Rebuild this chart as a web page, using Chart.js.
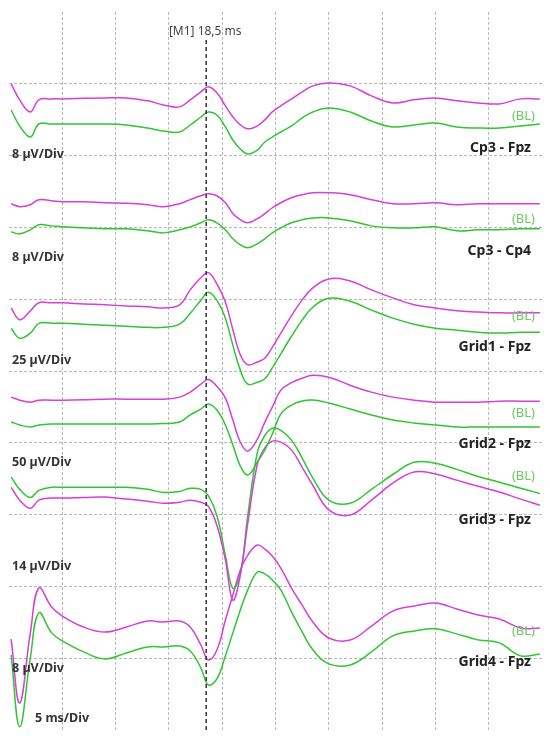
<!DOCTYPE html>
<html>
<head>
<meta charset="utf-8">
<script src="https://cdn.jsdelivr.net/npm/chart.js@4"></script>
<style>
  html, body { margin: 0; padding: 0; background: #fff; }
  canvas { display: block; }
</style>
</head>
<body>
<canvas id="myChart" width="550" height="742"></canvas>
<script>
// sample times, ms
const times = [0.2, 1, 2, 2.8, 4, 5, 7, 9, 11, 13, 14.5, 16, 17, 18, 18.7, 19.5, 20.3, 21, 21.7, 22.4,
  23.3, 24, 24.7, 25.5, 26.5, 27.5, 28.5, 30, 32, 34, 36, 38, 40, 42, 44, 46, 48, 49.8];

const channelNames = ['Cp3 - Fpz', 'Cp3 - Cp4', 'Grid1 - Fpz', 'Grid2 - Fpz', 'Grid3 - Fpz', 'Grid4 - Fpz'];
const uvPerDiv = [8, 8, 25, 50, 14, 8];
const msPerDiv = 5;
const markerMs = 18.5;

// amplitudes in µV, relative to each trace's baseline
const cp3FpzMag = [1.67, -0.11, -1.45, -0.11, 0, 0, 0.06, 0.11, 0.11, -0.22, -0.67, -0.89, -0.11, 0.78, 1.34, 0.67, -0.78, -2.01, -2.90, -3.34,
  -3.01, -2.34, -1.45, -0.78, 0, 0.78, 1.45, 1.78, 1.45, 0.33, -0.45, -0.11, 0.11, -0.22, -0.45, -0.56, 0, 0];
const cp3FpzGrn = [1.56, -0.22, -1.45, 0, 0, 0, 0, 0, -0.11, -0.45, -0.78, -0.89, -0.11, 0.78, 1.34, 1.00, -0.33, -1.78, -2.79, -3.34,
  -2.90, -2.01, -1.45, -0.89, -0.22, 0.67, 1.34, 1.78, 1.34, 0.33, -0.33, -0.11, 0.11, -0.33, -0.45, -0.45, -0.22, 0];

const cp3Cp4Mag = [0, -0.33, -0.11, 0.45, 0.33, 0.22, 0.22, 0.11, 0.06, -0.11, -0.33, 0, 0.45, 0.89, 1.11, 0.89, 0.11, -1.11, -1.78, -2.12,
  -1.67, -1.11, -0.45, 0.11, 0.67, 1.00, 1.22, 1.22, 1.00, 0.45, 0, 0, 0.11, -0.11, 0, 0, 0, 0];
const cp3Cp4Grn = [-0.33, -0.56, -0.11, 0.45, 0.33, 0.22, 0.11, 0, 0, -0.22, -0.45, -0.11, 0.22, 0.67, 1.00, 0.67, -0.11, -1.11, -1.78, -2.12,
  -1.67, -1.11, -0.45, 0.11, 0.67, 1.00, 1.22, 1.22, 0.89, 0.33, 0.11, 0.11, 0.22, -0.22, -0.11, -0.11, 0, 0];

const grid1Mag = [1.7, -2.4, 0.7, 3.5, 3.5, 3.5, 3.1, 2.8, 2.4, 2.1, 1.7, 2.8, 8.0, 12.2, 14.0, 10.1, 3.8, -5.9, -14.6, -18.1,
  -17.1, -15.8, -12.0, -7.1, -1.0, 4.5, 8.7, 11.8, 11.1, 8.0, 5.2, 2.8, 1.7, 0.7, 0.3, 0, 0, 0];
const grid1Grn = [1.4, -2.1, -0.3, 3.1, 3.1, 3.1, 2.8, 2.4, 2.1, 1.7, 1.7, 2.8, 6.6, 11.1, 13.9, 11.1, 4.9, -4.5, -13.2, -18.1,
  -17.4, -16.2, -12.4, -7.5, -1.4, 4.2, 8.7, 11.8, 10.8, 7.7, 4.9, 2.8, 1.4, 0.7, 0, -0.3, 0, 0];

const grid2Mag = [2.8, 0.7, -0.7, 0.7, 0.7, 0.7, 1.0, 1.4, 1.4, 1.4, 1.4, 2.8, 6.3, 11.8, 15.1, 10.4, 2.1, -13.2, -28.6, -34.8,
  -26.5, -14.6, -4.2, 7.7, 12.9, 16.0, 18.1, 16.7, 11.1, 6.3, 2.8, 0.7, -0.7, -0.7, -0.7, 0, 0, 0];
const grid2Grn = [3.5, 1.4, 0, 1.4, 2.1, 2.1, 2.1, 2.1, 2.1, 2.1, 2.4, 3.5, 8.4, 12.5, 16.0, 11.8, 1.4, -12.5, -27.2, -33.4,
  -24.4, -16.0, -4.9, 9.1, 15.3, 18.1, 18.8, 16.7, 12.5, 8.4, 4.9, 2.8, 1.4, 0, 0, 0, 0, 0];

const grid3Mag = [2.1, -0.4, -2.0, -0.4, 0, 0, 0.1, 0.2, -0.2, -0.6, -1.0, -0.8, -0.4, -0.8, -1.6, -5.3, -12.1, -19.9, -15.0, -4.9,
  6.6, 9.8, 11.1, 10.9, 9.4, 6.0, 2.5, -2.3, -3.3, -0.4, 2.9, 5.1, 4.7, 3.5, 2.3, 1.2, -0.2, -1.4];
const grid3Grn = [2.0, -0.4, -2.0, -0.6, 0, 0, 0, 0, 0, -0.4, -1.0, -0.8, -0.2, -0.4, -1.6, -5.5, -13.3, -19.7, -16.8, -5.5,
  6.8, 10.1, 11.5, 11.1, 9.2, 5.7, 1.8, -2.5, -3.1, -0.4, 2.5, 4.9, 4.7, 3.5, 2.1, 1.0, -0.2, -1.2];

const grid4Mag = [-1.23, -8.36, -0.56, 4.46, 2.34, 1.34, 0.11, -0.45, 0.11, 0.78, 0.67, 0.78, 0.11, -1.89, -3.56, -2.45, 0.89, 3.68, 6.46, 8.13,
  9.25, 8.80, 8.02, 6.68, 4.46, 2.56, 0.67, -1.11, -1.34, 0.22, 1.89, 2.45, 2.79, 2.12, 1.45, 1.00, 0, 0];
const grid4Grn = [-0.11, -8.13, -0.45, 4.57, 2.34, 1.45, 0.22, -0.56, 0.11, 0.78, 0.78, 0.89, 0.33, -1.56, -3.46, -2.79, -0.22, 2.34, 4.90, 7.13,
  9.13, 8.91, 8.24, 7.13, 4.68, 2.45, 0.45, -1.11, -1.23, 0.22, 2.01, 2.56, 2.79, 2.23, 1.56, 1.23, -0.22, 0];

const magTraces = [cp3FpzMag, cp3Cp4Mag, grid1Mag, grid2Mag, grid3Mag, grid4Mag];
const grnTraces = [cp3FpzGrn, cp3Cp4Grn, grid1Grn, grid2Grn, grid3Grn, grid4Grn];

// layout: where each trace's baseline sits, in divisions from the top
const magBase = [1.21, 2.67, 4.19, 5.42, 6.77, 8.58];
const grnBase = [1.56, 3.02, 4.46, 5.78, 6.62, 8.94];

const MAGENTA = 'rgb(216, 62, 216)';
const GREEN = 'rgb(48, 198, 48)';

function toPoints(trace, base, scale) {
  return trace.map((v, i) => ({ x: times[i], y: base - v / scale }));
}

const datasets = [];
channelNames.forEach((name, c) => {
  datasets.push({
    label: name + ' A',
    data: toPoints(magTraces[c], magBase[c], uvPerDiv[c]),
    borderColor: MAGENTA, borderWidth: 1.5, pointRadius: 0, tension: 0.4
  });
  datasets.push({
    label: name + ' B',
    data: toPoints(grnTraces[c], grnBase[c], uvPerDiv[c]),
    borderColor: GREEN, borderWidth: 1.5, pointRadius: 0, tension: 0.4
  });
});

// text positions (px)
const scaleLabelY = [154, 257, 360, 462, 566, 668];
const nameLabelY = [148, 251, 347, 444, 520, 662];
const blLabelY = [116, 219, 316, 413, 476, 631];

const overlay = {
  id: 'overlay',
  afterDatasetsDraw(chart) {
    const {ctx, chartArea: {bottom}, scales: {x}} = chart;
    const mx = x.getPixelForValue(markerMs);
    ctx.save();
    ctx.strokeStyle = '#333';
    ctx.lineWidth = 1.5;
    ctx.setLineDash([4, 3]);
    ctx.beginPath();
    ctx.moveTo(mx, 40);
    ctx.lineTo(mx, bottom);
    ctx.stroke();
    ctx.setLineDash([]);

    ctx.textBaseline = 'middle';
    ctx.font = '12px "Noto Sans"';
    ctx.fillStyle = '#444';
    ctx.textAlign = 'center';
    ctx.fillText('[M1] ' + String(markerMs).replace('.', ',') + ' ms', mx - 1, 32);

    ctx.textAlign = 'left';
    ctx.font = 'bold 12.5px "Noto Sans"';
    ctx.fillStyle = '#333';
    uvPerDiv.forEach((s, i) => ctx.fillText(s + ' µV/Div', 12, scaleLabelY[i]));
    ctx.fillText(msPerDiv + ' ms/Div', 35, 718);

    ctx.textAlign = 'right';
    ctx.font = 'bold 14px "Noto Sans"';
    ctx.fillStyle = '#222';
    channelNames.forEach((n, i) => ctx.fillText(n, 531, nameLabelY[i]));

    ctx.font = '13px "Noto Sans"';
    ctx.fillStyle = 'rgb(110, 200, 100)';
    blLabelY.forEach(y => ctx.fillText('(BL)', 535, y));
    ctx.restore();
  }
};

const edgeless = (c) => (c.index === 0 || c.index === 10) ? 'rgba(0,0,0,0)' : '#b9b9b9';

const config = {
  type: 'line',
  data: { datasets },
  options: {
    responsive: false,
    animation: false,
    devicePixelRatio: 1,
    layout: { padding: { left: 9, right: 8, top: 12, bottom: 12 } },
    plugins: { legend: { display: false }, tooltip: { enabled: false } },
    scales: {
      x: {
        type: 'linear', min: 0, max: 50,
        ticks: { display: false, stepSize: msPerDiv },
        grid: { color: edgeless, drawTicks: false, lineWidth: 1 },
        border: { display: false, dash: [3, 2] }
      },
      y: {
        type: 'linear', min: 0, max: 10, reverse: true,
        ticks: { display: false, stepSize: 1 },
        grid: { color: edgeless, drawTicks: false, lineWidth: 1 },
        border: { display: false, dash: [3, 2] }
      }
    }
  },
  plugins: [overlay]
};

const myChart = new Chart(document.getElementById('myChart'), config);
</script>
</body>
</html>
